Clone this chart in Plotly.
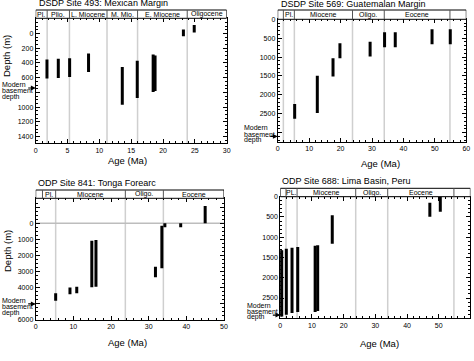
import plotly.graph_objects as go

W, H = 474, 361
FONT = "Liberation Sans, Arial, Helvetica, sans-serif"

# ---------------- data ----------------
# DSDP Site 493: Mexican Margin
s493_age = [1.77, 3.55, 5.33, 8.3, 13.6, 15.95, 18.45, 18.75, 23.2, 24.9]
s493_top = [354, 345, 336, 272, 454, 372, 286, 300, -54, -113]
s493_bot = [612, 604, 590, 522, 966, 876, 794, 780, 37, -14]
s493_basement = 740
s493_lines = [1.8, 5.3, 11.2, 16.0, 23.8]
s493_bounds = [0, 1.8, 5.3, 11.2, 16.0, 23.8, 30]
s493_epochs = ["Pl.", "Plio.", "L. Miocene", "M. Mio.", "E. Miocene", "Oligocene"]
s493_yticks = [0, 200, 400, 600, 800, 1000, 1200, 1400]
s493_ylabels = ["0", "200", "400", "600", "", "1000", "1200", "1400"]

# DSDP Site 569: Guatemalan Margin
s569_age = [5.4, 12.6, 17.6, 19.8, 29.4, 34.0, 37.4, 49.1, 54.9]
s569_top = [2244, 1497, 1030, 634, 591, 343, 343, 264, 264]
s569_bot = [2632, 2482, 1515, 1030, 987, 739, 739, 660, 660]
s569_basement = 3100
s569_lines = [1.8, 5.3, 23.8, 33.9, 54.8]
s569_bounds = [1.8, 5.3, 23.8, 33.9, 54.8]
s569_epochs = ["Pl.", "Miocene", "Oligo.", "Eocene"]
s569_yticks = [0, 500, 1000, 1500, 2000, 2500, 3000]
s569_ylabels = ["0", "500", "1000", "1500", "2000", "2500", ""]

# ODP Site 841: Tonga Forearc
s841_age = [5.3, 9.1, 10.9, 14.9, 16.0, 31.8, 33.5, 34.3, 38.5, 45.0]
s841_top = [4340, 3990, 3930, 1080, 1035, 2690, 150, 0, 0, -1070]
s841_bot = [4800, 4400, 4340, 3970, 3930, 3350, 2790, 250, 250, 0]
s841_basement = 5000
s841_lines = [5.3, 23.8, 33.9]
s841_bounds = [1.8, 5.3, 23.8, 33.9, 50]
s841_epochs = ["Pl.", "Miocene", "Oligo.", "Eocene"]
s841_yticks = [-1000, 0, 1000, 2000, 3000, 4000, 5000, 6000]
s841_ylabels = ["", "0", "1000", "2000", "3000", "4000", "", "6000"]

# ODP Site 688: Lima Basin, Peru
s688_age = [0.15, 0.45, 1.9, 3.7, 5.5, 11.0, 11.8, 16.4, 47.2, 50.5]
s688_top = [1320, 1320, 1287, 1262, 1238, 1213, 1196, 455, 149, 0]
s688_bot = [2955, 2955, 2913, 2871, 2846, 2846, 2822, 1163, 495, 371]
s688_basement = 2920
s688_lines = [1.8, 5.3, 23.8, 33.9, 54.8]
s688_bounds = [1.8, 5.3, 23.8, 33.9, 54.8]
s688_epochs = ["PL.", "Miocene", "Oligo.", "Eocene"]
s688_yticks = [0, 500, 1000, 1500, 2000, 2500, 3000]
s688_ylabels = ["0", "500", "1000", "1500", "2000", "2500", ""]

titles = ["DSDP Site 493: Mexican Margin", "DSDP Site 569: Guatemalan Margin",
          "ODP Site 841: Tonga Forearc", "ODP Site 688: Lima Basin, Peru"]
basement_text = ["Modern", "basement", "depth"]

# ---------------- layout config (pixels) ----------------
def px(x):
    return x / W

def py(y):
    return 1 - y / H

panels = [
    dict(title=titles[0], age=s493_age, top=s493_top, bot=s493_bot, base=s493_basement,
         lines=s493_lines, bounds=s493_bounds, epochs=s493_epochs,
         ytv=s493_yticks, ytt=s493_ylabels, xr=[0, 30], yr=[1490, -205],
         xdt=5, xmin=1, ymin=50, box=(35.7, 226.7, 18.3, 143.3), htop=10,
         title_xy=(37, 3), xt_xy=(127, 160), yt_xy=(7, 56),
         btext_x=0, btext_y=[84.3, 90.7, 97.3], hzero=False),
    dict(title=titles[1], age=s569_age, top=s569_top, bot=s569_bot, base=s569_basement,
         lines=s569_lines, bounds=s569_bounds, epochs=s569_epochs,
         ytv=s569_yticks, ytt=s569_ylabels, xr=[0, 60], yr=[3240, 0],
         xdt=10, xmin=2, ymin=100, box=(277.7, 466.3, 19.3, 141.7), htop=10,
         title_xy=(279, 4), xt_xy=(380, 163), yt_xy=None,
         btext_x=242, btext_y=[127.3, 134, 140.3], hzero=False),
    dict(title=titles[2], age=s841_age, top=s841_top, bot=s841_bot, base=s841_basement,
         lines=s841_lines, bounds=s841_bounds, epochs=s841_epochs,
         ytv=s841_yticks, ytt=s841_ylabels, xr=[0, 50], yr=[6000, -1550],
         xdt=10, xmin=2, ymin=250, box=(35.7, 224, 198.3, 320), htop=190,
         title_xy=(36, 183), xt_xy=(127, 342), yt_xy=(7, 251),
         btext_x=0, btext_y=[300.7, 306.7, 312.7], hzero=True),
    dict(title=titles[3], age=s688_age, top=s688_top, bot=s688_bot, base=s688_basement,
         lines=s688_lines, bounds=s688_bounds, epochs=s688_epochs,
         ytv=s688_yticks, ytt=s688_ylabels, xr=[0, 60], yr=[3000, 0],
         xdt=10, xmin=2, ymin=100, box=(280.3, 470.4, 196.7, 318.3), htop=188.3,
         title_xy=(280, 181), xt_xy=(379, 343), yt_xy=None,
         btext_x=245, btext_y=[305, 311, 316.7], hzero=False),
]

fig = go.Figure()
shapes = []
annotations = []
layout = {}

for i, p in enumerate(panels):
    n = "" if i == 0 else str(i + 1)
    xa, ya = "x" + n, "y" + n
    x0, x1, y0, y1 = p["box"]

    # bars
    xs, ys = [], []
    for a, t, b in zip(p["age"], p["top"], p["bot"]):
        xs += [a, a, None]
        ys += [t, b, None]
    fig.add_trace(go.Scatter(x=xs, y=ys, mode="lines", xaxis=xa, yaxis=ya,
                             line=dict(color="black", width=3), hoverinfo="skip",
                             showlegend=False, cliponaxis=False))

    tickfont = dict(family=FONT, size=7, color="black")
    layout["xaxis" + n] = dict(
        domain=[px(x0), px(x1)], anchor=ya, range=p["xr"], dtick=p["xdt"], tick0=0,
        ticks="inside", ticklen=4, tickwidth=1, tickcolor="black", automargin=False,
        showline=True, linecolor="black", linewidth=1, mirror="ticks",
        showgrid=False, zeroline=False, tickfont=tickfont,
        minor=dict(ticks="inside", ticklen=2, dtick=p["xmin"], tickcolor="black", showgrid=False),
    )
    layout["yaxis" + n] = dict(
        domain=[py(y1), py(y0)], anchor=xa, range=p["yr"],
        tickvals=p["ytv"], ticktext=p["ytt"], automargin=False,
        ticks="inside", ticklen=4, tickwidth=1, tickcolor="black",
        showline=True, linecolor="black", linewidth=1, mirror="ticks",
        showgrid=False, zeroline=False, tickfont=tickfont,
        minor=dict(ticks="inside", ticklen=2, dtick=p["ymin"], tickcolor="black", showgrid=False),
    )

    # epoch boundary lines in plot
    for b in p["lines"]:
        shapes.append(dict(type="line", xref=xa, yref=ya + " domain", x0=b, x1=b, y0=0, y1=1,
                           line=dict(color="#cfcfcf", width=1.5), layer="below"))
    if p["hzero"]:
        shapes.append(dict(type="line", xref=xa + " domain", yref=ya, x0=0, x1=1, y0=0, y1=0,
                           line=dict(color="#bdbdbd", width=1.5), layer="below"))

    # header strip
    hy0, hy1 = py(y0), py(p["htop"])
    shapes.append(dict(type="rect", xref=xa, yref="paper", x0=p["xr"][0], x1=p["xr"][1],
                       y0=hy0, y1=hy1, line=dict(color="black", width=1), fillcolor="white"))
    for b in p["bounds"]:
        if p["xr"][0] < b < p["xr"][1]:
            shapes.append(dict(type="line", xref=xa, yref="paper", x0=b, x1=b, y0=hy0, y1=hy1,
                               line=dict(color="#555555", width=1)))
    for k, lab in enumerate(p["epochs"]):
        if len(p["bounds"]) == len(p["epochs"]) + 1:
            c = (p["bounds"][k] + p["bounds"][k + 1]) / 2
        else:
            c = (p["bounds"][k] + (p["bounds"][k + 1] if k + 1 < len(p["bounds"]) else p["xr"][1])) / 2
        annotations.append(dict(text=lab, xref=xa, yref="paper", x=c, y=(hy0 + hy1) / 2,
                                showarrow=False, xanchor="center", yanchor="middle",
                                font=dict(family=FONT, size=7, color="black")))

    # titles
    tx, ty = p["title_xy"]
    annotations.append(dict(text=p["title"], xref="paper", yref="paper", x=px(tx), y=py(ty),
                            showarrow=False, xanchor="left", yanchor="middle",
                            font=dict(family=FONT, size=9, color="black")))
    ax_, ay_ = p["xt_xy"]
    annotations.append(dict(text="Age (Ma)", xref="paper", yref="paper", x=px(ax_), y=py(ay_),
                            showarrow=False, xanchor="center", yanchor="middle",
                            font=dict(family=FONT, size=9.5, color="black")))
    if p["yt_xy"]:
        yx, yy = p["yt_xy"]
        annotations.append(dict(text="Depth (m)", xref="paper", yref="paper", x=px(yx), y=py(yy),
                                showarrow=False, xanchor="center", yanchor="middle", textangle=-90,
                                font=dict(family=FONT, size=9.5, color="black")))

    # modern basement depth
    annotations.append(dict(text="", xref=xa, yref=ya, x=p["xr"][0], y=p["base"],
                            showarrow=True, ax=-9, ay=0, arrowhead=2, arrowsize=0.8,
                            arrowwidth=1.2, arrowcolor="black", standoff=0))
    for line_txt, ly in zip(basement_text, p["btext_y"]):
        annotations.append(dict(text=line_txt, xref="paper", yref="paper", x=px(p["btext_x"]),
                                y=py(ly), showarrow=False, xanchor="left", yanchor="middle",
                                font=dict(family=FONT, size=7, color="black")))

fig.update_layout(**layout)
fig.update_layout(width=W, height=H, margin=dict(l=0, r=0, t=0, b=0),
                  paper_bgcolor="white", plot_bgcolor="white", showlegend=False,
                  shapes=shapes, annotations=annotations)
fig.write_html("out.html", config={"displayModeBar": False, "staticPlot": True},
               post_script="document.body.style.margin='0';document.body.style.overflow='hidden';")
